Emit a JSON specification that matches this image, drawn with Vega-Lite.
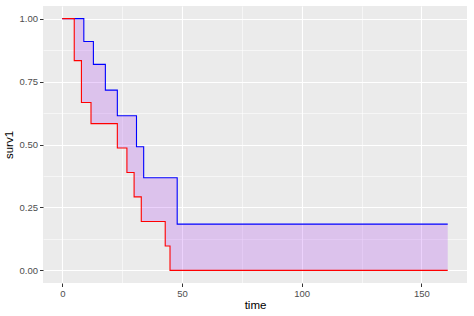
{
  "$schema": "https://vega.github.io/schema/vega-lite/v6.json",
  "width": 424,
  "height": 277,
  "autosize": {"type": "none"},
  "padding": {"left": 43, "top": 6, "right": 7, "bottom": 33},
  "background": "white",
  "config": {
    "view": {"fill": "#EBEBEB", "stroke": null},
    "font": "Liberation Sans",
    "axis": {
      "gridColor": "white",
      "domain": false,
      "tickColor": "#333333",
      "tickSize": 3.5,
      "tickWidth": 1,
      "labelColor": "#4D4D4D",
      "labelFontSize": 9.5,
      "labelPadding": 2,
      "titleFontSize": 11.5,
      "titleFontWeight": "normal",
      "titleColor": "black"
    }
  },
  "data": {
    "values": [
      {"time": 0, "surv1": 1, "surv2": 1},
      {"time": 5, "surv1": 1, "surv2": 0.833},
      {"time": 8, "surv1": 1, "surv2": 0.667},
      {"time": 9, "surv1": 0.909, "surv2": 0.667},
      {"time": 12, "surv1": 0.909, "surv2": 0.583},
      {"time": 13, "surv1": 0.818, "surv2": 0.583},
      {"time": 18, "surv1": 0.716, "surv2": 0.583},
      {"time": 23, "surv1": 0.614, "surv2": 0.486},
      {"time": 27, "surv1": 0.614, "surv2": 0.389},
      {"time": 30, "surv1": 0.614, "surv2": 0.292},
      {"time": 31, "surv1": 0.491, "surv2": 0.292},
      {"time": 33, "surv1": 0.491, "surv2": 0.194},
      {"time": 34, "surv1": 0.368, "surv2": 0.194},
      {"time": 43, "surv1": 0.368, "surv2": 0.097},
      {"time": 45, "surv1": 0.368, "surv2": 0},
      {"time": 48, "surv1": 0.184, "surv2": 0},
      {"time": 161, "surv1": 0.184, "surv2": 0}
    ]
  },
  "resolve": {"axis": {"x": "independent", "y": "independent"}},
  "layer": [
    {
      "mark": {"type": "area", "interpolate": "step-after", "fill": "#A020F0", "fillOpacity": 0.2},
      "encoding": {
        "x": {"field": "time", "type": "quantitative", "scale": {"domain": [-8.05, 169.05], "nice": false, "zero": false},
              "axis": {"orient": "bottom", "values": [25, 75, 125], "grid": true, "gridWidth": 0.55, "ticks": false, "labels": false, "title": null}},
        "y": {"field": "surv1", "type": "quantitative", "scale": {"domain": [-0.05, 1.05], "nice": false, "zero": false},
              "axis": {"orient": "left", "values": [0.125, 0.375, 0.625, 0.875], "grid": true, "gridWidth": 0.55, "ticks": false, "labels": false, "title": null}},
        "y2": {"field": "surv2"}
      }
    },
    {
      "mark": {"type": "line", "interpolate": "step-after", "color": "#0000FF", "strokeWidth": 1.1},
      "encoding": {
        "x": {"field": "time", "type": "quantitative",
              "axis": {"orient": "bottom", "values": [0, 50, 100, 150], "grid": true, "gridWidth": 1.1, "title": "time", "titlePadding": 1}},
        "y": {"field": "surv1", "type": "quantitative",
              "axis": {"orient": "left", "values": [0, 0.25, 0.5, 0.75, 1], "format": ".2f", "grid": true, "gridWidth": 1.1, "title": "surv1", "titlePadding": 5}}
      }
    },
    {
      "mark": {"type": "line", "interpolate": "step-after", "color": "#FF0000", "strokeWidth": 1.1},
      "encoding": {
        "x": {"field": "time", "type": "quantitative", "axis": null},
        "y": {"field": "surv2", "type": "quantitative", "axis": null}
      }
    }
  ]
}
